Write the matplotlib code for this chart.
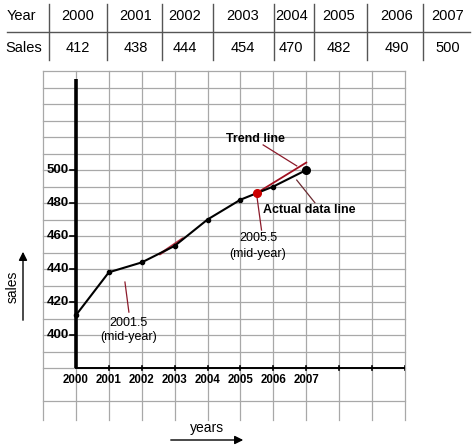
import matplotlib
matplotlib.use("Agg")
import matplotlib.pyplot as plt

# ---------------- data ----------------
years = [2000, 2001, 2002, 2003, 2004, 2005, 2006, 2007]
sales = [412, 438, 444, 454, 470, 482, 490, 500]
table_years = ["2000", "2001", "2002", "2003", "2004", "2005", "2006", "2007"]
table_sales = ["412", "438", "444", "454", "470", "482", "490", "500"]
y_tick_values = [400, 420, 440, 460, 480, 500]
mid_point_x = [2005.5]
mid_point_y = [486]
trend_x = [2005.45, 2007.0]
trend_y = [485.5, 504.5]
tangent_x = [2002.55, 2003.25]
tangent_y = [449.0, 458.5]

# ---------------- layout ----------------
W, H = 474, 446
fig = plt.figure(figsize=(W / 100, H / 100), dpi=100)
plt.rcParams['font.family'] = ['Liberation Sans', 'DejaVu Sans']

def fx(px):
    return px / W

def fy(py):
    return 1 - py / H

x0_pix, x1_pix = 43, 405
y_top_pix, y_bot_pix = 71, 420
ax = fig.add_axes([fx(x0_pix), fy(y_bot_pix), (x1_pix - x0_pix) / W, (y_bot_pix - y_top_pix) / H])
ax.set_xlim(1999, 2010)
ax.set_ylim(348.5, 560)
ax.axis("off")

grid_c = "#a8a8a8"
for gx in range(1999, 2011):
    ax.plot([gx, gx], [348.5, 560], color=grid_c, lw=0.9, zorder=1, clip_on=False)
for gy in list(range(380, 561, 10)) + [360]:
    ax.plot([1999, 2010], [gy, gy], color=grid_c, lw=0.9, zorder=1, clip_on=False)

# axes lines
ax.plot([2000, 2000], [380, 555], color="black", lw=2.6, zorder=3, solid_capstyle="butt")
ax.plot([2000, 2010], [380, 380], color="black", lw=1.4, zorder=3)
for gx in range(2001, 2011):
    ax.plot([gx, gx], [378.5, 381.5], color="black", lw=1.2, zorder=3)
for v in y_tick_values:
    ax.plot([1999.82, 2000], [v, v], color="black", lw=1.2, zorder=3)
    ax.text(1999.79, v, str(v), ha="right", va="center", fontsize=9.5,
            fontweight="bold", zorder=4)
for yr in years:
    ax.text(yr, 376.3, str(yr), ha="center", va="top", fontsize=8.3,
            fontweight="bold", zorder=4)

# tangent segments / trend line
ax.plot(tangent_x, tangent_y, color="#b03040", lw=1.8, zorder=4, solid_capstyle="round")
ax.plot(trend_x, trend_y, color="#a01020", lw=1.3, zorder=4)

# actual data line
ax.plot(years, sales, color="black", lw=1.5, marker="o", markersize=3, zorder=5)
ax.plot(years[-1:], sales[-1:], color="black", marker="o", markersize=5.5, zorder=6, lw=0)
ax.plot(mid_point_x, mid_point_y, color="#cc0000", marker="o", markersize=5.5, zorder=6, lw=0)

# annotations
ann_c = "#8b1a2a"
ax.plot([2001.49, 2001.61], [432.1, 413.9], color=ann_c, lw=0.9, zorder=4)
ax.text(2001.59, 407.5, "2001.5", ha="center", va="center", fontsize=9, zorder=4)
ax.text(2001.59, 399.0, "(mid-year)", ha="center", va="center", fontsize=9, zorder=4)

ax.plot([2005.49, 2005.64], [485.5, 463.6], color=ann_c, lw=0.9, zorder=4)
ax.text(2005.53, 458.8, "2005.5", ha="center", va="center", fontsize=9, zorder=4)
ax.text(2005.53, 449.1, "(mid-year)", ha="center", va="center", fontsize=9, zorder=4)

ax.text(2004.57, 518.5, "Trend line", ha="left", va="center", fontsize=9,
        fontweight="bold", zorder=4)
ax.plot([2005.69, 2006.71], [515.2, 502.5], color=ann_c, lw=0.9, zorder=4)

ax.text(2005.67, 475.8, "Actual data line", ha="left", va="center", fontsize=9,
        fontweight="bold", zorder=4)
ax.plot([2006.71, 2007.26], [493.9, 480.2], color="#6b2a30", lw=0.9, zorder=4)

# axis labels with arrows
fig.text(fx(13), fy(287), "sales", rotation=90, ha="center", va="center", fontsize=10)
fig.add_artist(matplotlib.patches.FancyArrowPatch(
    (fx(23), fy(323)), (fx(23), fy(249)), transform=fig.transFigure,
    arrowstyle="-|>,head_length=5,head_width=2.5", color="black", lw=1.0,
    mutation_scale=1))
fig.text(fx(207), fy(428), "years", ha="center", va="center", fontsize=10)
fig.add_artist(matplotlib.patches.FancyArrowPatch(
    (fx(168), fy(440)), (fx(246), fy(440)), transform=fig.transFigure,
    arrowstyle="-|>,head_length=5,head_width=2.5", color="black", lw=1.0,
    mutation_scale=1))

# ---------------- table at top ----------------
tab_c = "#555555"
fig.add_artist(plt.Line2D([fx(7), fx(470)], [fy(31.7), fy(31.7)],
                          transform=fig.transFigure, color=tab_c, lw=1.0))
for sx in [49.3, 106.7, 162.3, 213.3, 274, 314, 366.7, 422.7]:
    fig.add_artist(plt.Line2D([fx(sx), fx(sx)], [fy(4), fy(60)],
                              transform=fig.transFigure, color=tab_c, lw=1.0))
col_centers = [77.5, 135.5, 184.5, 242.5, 291.2, 338.5, 396.5, 447.8]
fig.text(fx(7), fy(16), "Year", ha="left", va="center", fontsize=10.5)
fig.text(fx(5), fy(48.3), "Sales", ha="left", va="center", fontsize=10.5)
for cx, yr, s in zip(col_centers, table_years, table_sales):
    fig.text(fx(cx), fy(16), yr, ha="center", va="center", fontsize=10.5)
    fig.text(fx(cx), fy(48.3), s, ha="center", va="center", fontsize=10.5)

fig.savefig("out.png", dpi=100, facecolor="white")
